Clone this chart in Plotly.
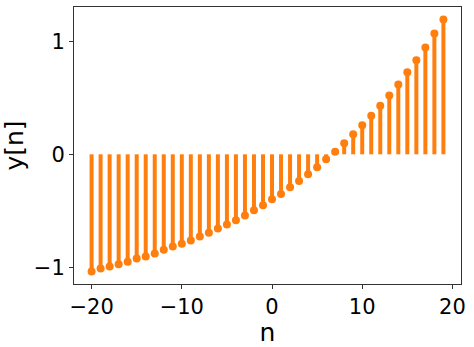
import plotly.graph_objects as go

n = list(range(-20, 20))
y = [-1.035, -1.009, -0.991, -0.971, -0.950, -0.921, -0.903, -0.877, -0.844, -0.815,
     -0.790, -0.762, -0.727, -0.694, -0.656, -0.621, -0.583, -0.541, -0.494, -0.450,
     -0.397, -0.350, -0.291, -0.235, -0.176, -0.115, -0.044, 0.023, 0.098, 0.177,
     0.257, 0.341, 0.430, 0.521, 0.618, 0.726, 0.832, 0.944, 1.068, 1.191]

x_ticks = [-20, -10, 0, 10, 20]
x_tick_text = ["\u221220", "\u221210", "0", "10", "20"]
y_ticks = [-1, 0, 1]
y_tick_text = ["\u22121", "0", "1"]

color = "#ff7f0e"

sx, sy = [], []
for xi, yi in zip(n, y):
    sx += [xi, xi, None]
    sy += [0, yi, None]

fig = go.Figure()
fig.add_trace(go.Scatter(x=sx, y=sy, mode="lines", line=dict(color=color, width=4),
                         hoverinfo="skip", showlegend=False))
fig.add_trace(go.Scatter(x=n, y=y, mode="markers", marker=dict(color=color, size=8),
                         showlegend=False))

lo, hi = min(y), max(y)
pad = 0.05 * (hi - lo)
xpad = 0.05 * (max(n) - min(n))

fig.update_layout(
    width=474, height=347,
    margin=dict(l=74, r=13, t=7, b=63, autoexpand=False),
    paper_bgcolor="white", plot_bgcolor="white",
    font=dict(family="DejaVu Sans", size=21, color="black"),
    xaxis=dict(range=[min(n) - xpad, max(n) + xpad], tickvals=x_ticks, ticktext=x_tick_text,
               showgrid=False, zeroline=False, showline=True, linecolor="#333", linewidth=1,
               mirror=True, ticks="outside", ticklen=4, tickcolor="#333", automargin=False,
               title=dict(text="n", standoff=0)),
    yaxis=dict(range=[lo - pad, hi + pad], tickvals=y_ticks, ticktext=y_tick_text,
               showgrid=False, zeroline=False, showline=True, linecolor="#333", linewidth=1,
               mirror=True, ticks="outside", ticklen=4, tickcolor="#333", automargin=False,
               title=dict(text="y[n]", standoff=8)),
)

fig.write_html("out.html", config={"displayModeBar": False},
               post_script="document.body.style.margin='0';")
